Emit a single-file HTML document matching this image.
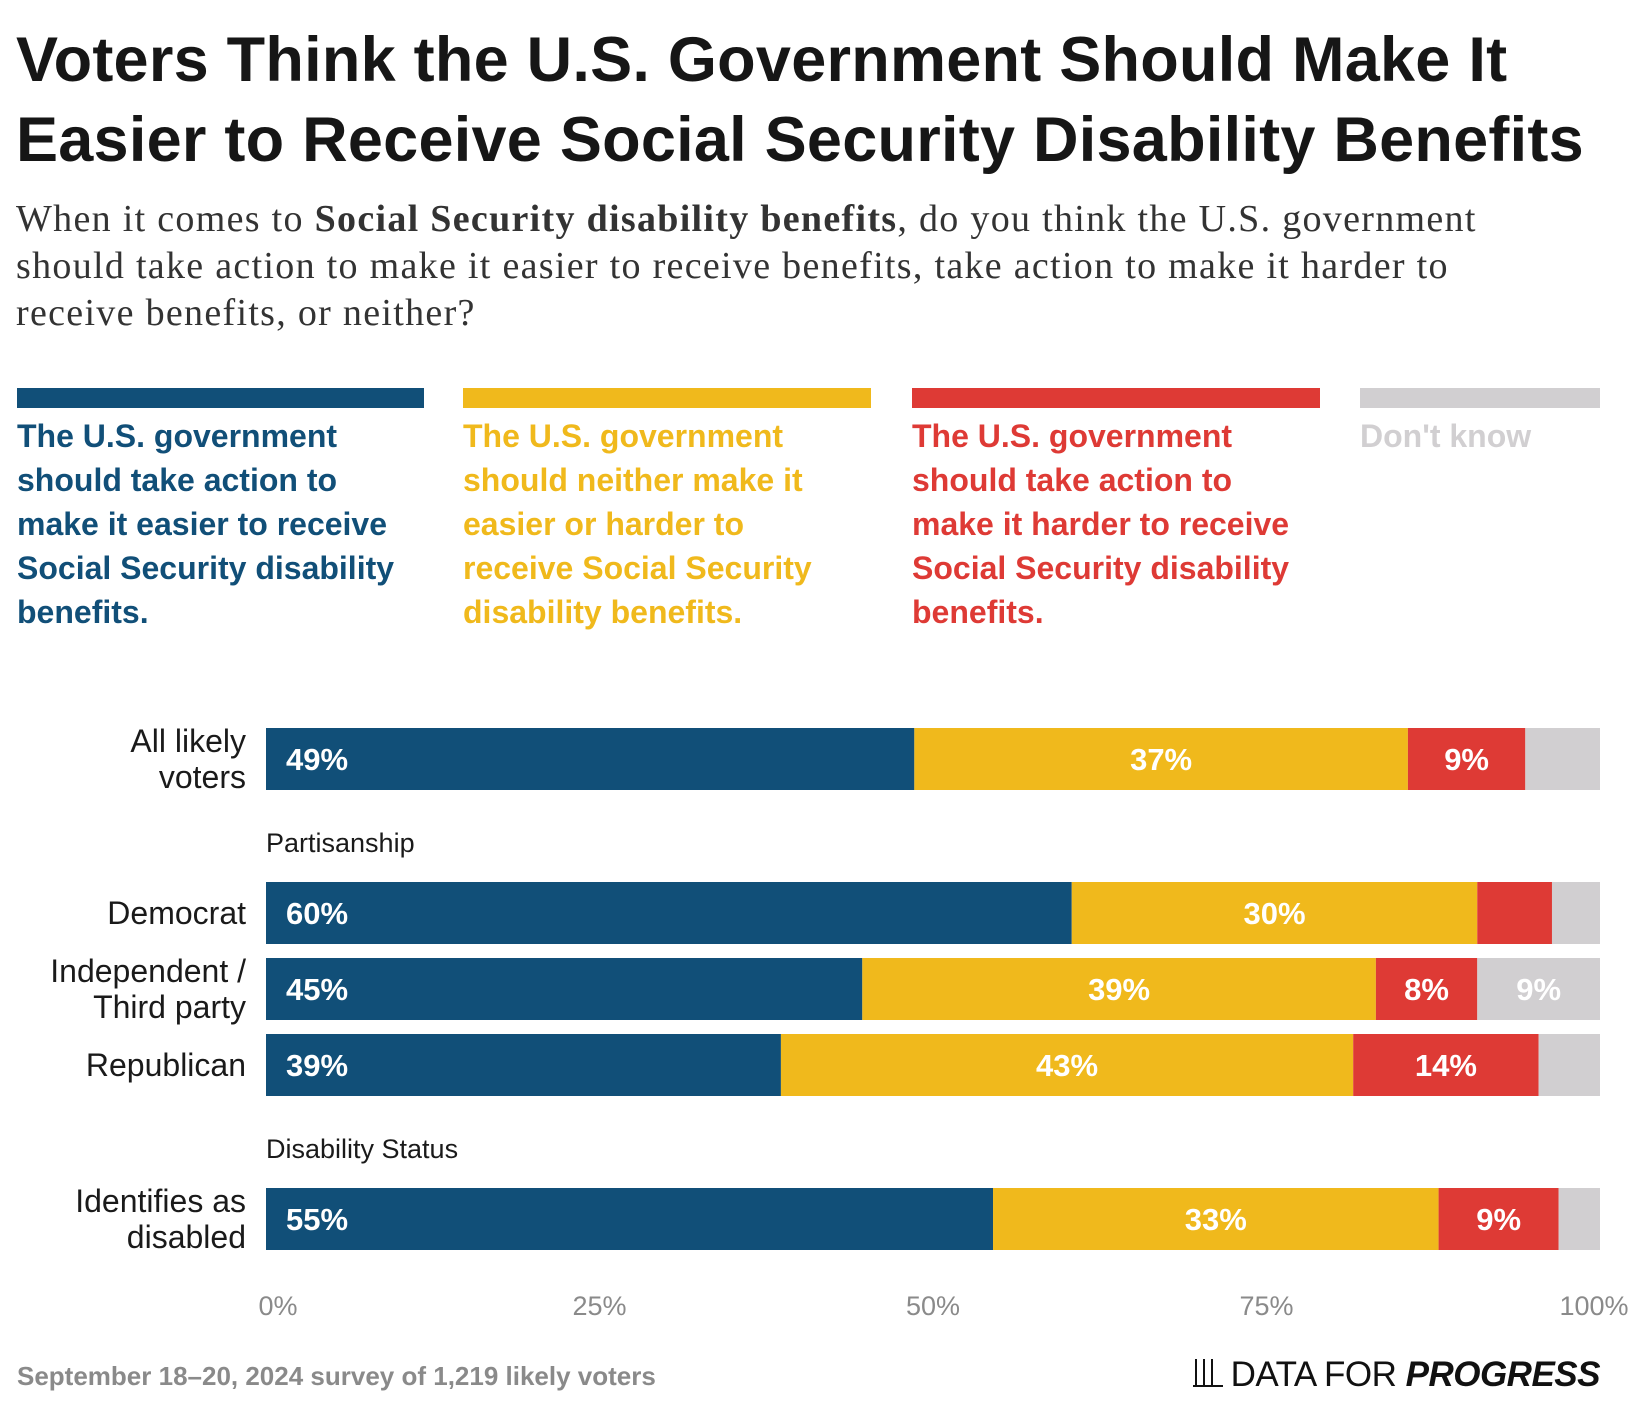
<!DOCTYPE html>
<html><head><meta charset="utf-8">
<style>
body{margin:0;background:#fff;font-family:"Liberation Sans",Arial,sans-serif;}
#wrap{position:relative;width:1640px;height:1410px;overflow:hidden;}
.t{position:absolute;white-space:nowrap;}
h1{position:absolute;left:16px;top:20px;margin:0;font-size:63px;line-height:80px;font-weight:bold;color:#161616;letter-spacing:0.25px;white-space:nowrap;}
#sub{position:absolute;left:16px;top:196px;font-family:"Liberation Serif",serif;font-size:38px;line-height:47px;color:#333;white-space:nowrap;letter-spacing:1.3px;}
.lg{position:absolute;top:388px;height:20px;}
.lt{position:absolute;top:414px;font-size:32px;line-height:44px;font-weight:bold;white-space:nowrap;}
</style></head><body>
<div id="wrap">
<h1>Voters Think the U.S. Government Should Make It<br>Easier to Receive Social Security Disability Benefits</h1>
<div id="sub">When it comes to <b>Social Security disability benefits</b>, do you think the U.S. government<br>should take action to make it easier to receive benefits, take action to make it harder to<br>receive benefits, or neither?</div>

<div class="lg" style="left:17px;width:407px;background:#114f78"></div>
<div class="lt" style="left:17px;color:#114f78">The U.S. government<br>should take action to<br>make it easier to receive<br>Social Security disability<br>benefits.</div>
<div class="lg" style="left:463px;width:408px;background:#f0b91c"></div>
<div class="lt" style="left:463px;color:#f0b91c">The U.S. government<br>should neither make it<br>easier or harder to<br>receive Social Security<br>disability benefits.</div>
<div class="lg" style="left:912px;width:408px;background:#de3a35"></div>
<div class="lt" style="left:912px;color:#de3a35">The U.S. government<br>should take action to<br>make it harder to receive<br>Social Security disability<br>benefits.</div>
<div class="lg" style="left:1360px;width:240px;background:#d1cfd1"></div>
<div class="lt" style="left:1360px;color:#d1cfd1">Don't know</div>

<svg id="chart" width="1640" height="1410" style="position:absolute;left:0;top:0"></svg>

<div class="t" style="left:17px;top:1361px;font-size:26px;font-weight:bold;color:#8a8a8a">September 18–20, 2024 survey of 1,219 likely voters</div>
<div class="t" style="right:40px;top:1355px;font-size:35px;color:#111;letter-spacing:-0.5px"><span style="display:inline-block;width:30px;height:26px;vertical-align:-1px;border-bottom:2px solid #111;background:linear-gradient(90deg,transparent 0,transparent 2px,#111 2px,#111 4px,transparent 4px,transparent 10px,#111 10px,#111 12px,transparent 12px,transparent 18px,#111 18px,#111 20px,transparent 20px);margin-right:8px"></span>DATA FOR <b><i>PROGRESS</i></b></div>
</div>
<script>
const categories=["All likely voters","Democrat","Independent / Third party","Republican","Identifies as disabled"];
const easier=[48.6,60.4,44.7,38.6,54.5];
const neither=[37,30.4,38.5,42.9,33.4];
const harder=[8.8,5.6,7.6,13.9,9];
const dontKnow=[5.6,3.6,9.2,4.6,3.1];
const ticks=[0,25,50,75,100];
const tickLabels=["0%","25%","50%","75%","100%"];
const rowTops=[728,882,958,1034,1188];
const labelLines=[["All likely","voters"],["Democrat"],["Independent /","Third party"],["Republican"],["Identifies as","disabled"]];
const NS="http://www.w3.org/2000/svg";
const svg=document.getElementById('chart');
const X0=266,X1=1600,BH=62;
const x=v=>X0+(X1-X0)*v/100;
function mk(tag,attrs){const e=document.createElementNS(NS,tag);for(const k in attrs)e.setAttribute(k,attrs[k]);svg.appendChild(e);return e;}
const series=[[easier,"#114f78","easier"],[neither,"#f0b91c","neither"],[harder,"#de3a35","harder"],[dontKnow,"#d1cfd1","dont-know"]];
categories.forEach((c,i)=>{
  let acc=0;const y=rowTops[i];
  series.forEach(([arr,col,nm],s)=>{
    const v=arr[i];
    const r=mk('rect',{x:x(acc),y:y,width:x(acc+v)-x(acc),height:BH,fill:col});
    
    
    if(v>=7){
      const t=mk('text',{y:y+BH/2+11,fill:'#fff','font-size':31,'font-weight':'bold','font-family':'Liberation Sans, sans-serif'});
      if(s===0){t.setAttribute('x',x(acc)+20);}else{t.setAttribute('x',(x(acc)+x(acc+v))/2);t.setAttribute('text-anchor','middle');}
      t.textContent=Math.round(v)+'%';
      
      
    }
    acc+=v;
  });
  const lines=labelLines[i];
  lines.forEach((ln,j)=>{
    const t=mk('text',{x:246,y:y+BH/2+11+(j-(lines.length-1)/2)*36,'text-anchor':'end','font-size':32,fill:'#1a1a1a','font-family':'Liberation Sans, sans-serif'});
    t.textContent=ln;
    
    
  });
});
[["Partisanship",852],["Disability Status",1158]].forEach(([s,y])=>{
  const t=mk('text',{x:266,y:y,'font-size':27,fill:'#1a1a1a','font-family':'Liberation Sans, sans-serif'});
  t.textContent=s;
  
  
});
ticks.forEach((v,i)=>{
  const t=mk('text',{x:x(v),y:1315,'text-anchor':'middle','font-size':27,fill:'#8a8a8a','font-family':'Liberation Sans, sans-serif'});
  if(i===0)t.setAttribute('x',x(v)+12);
  if(i===4)t.setAttribute('x',x(v)-6);
  t.textContent=tickLabels[i];
  
  
});
</script>
</body></html>
